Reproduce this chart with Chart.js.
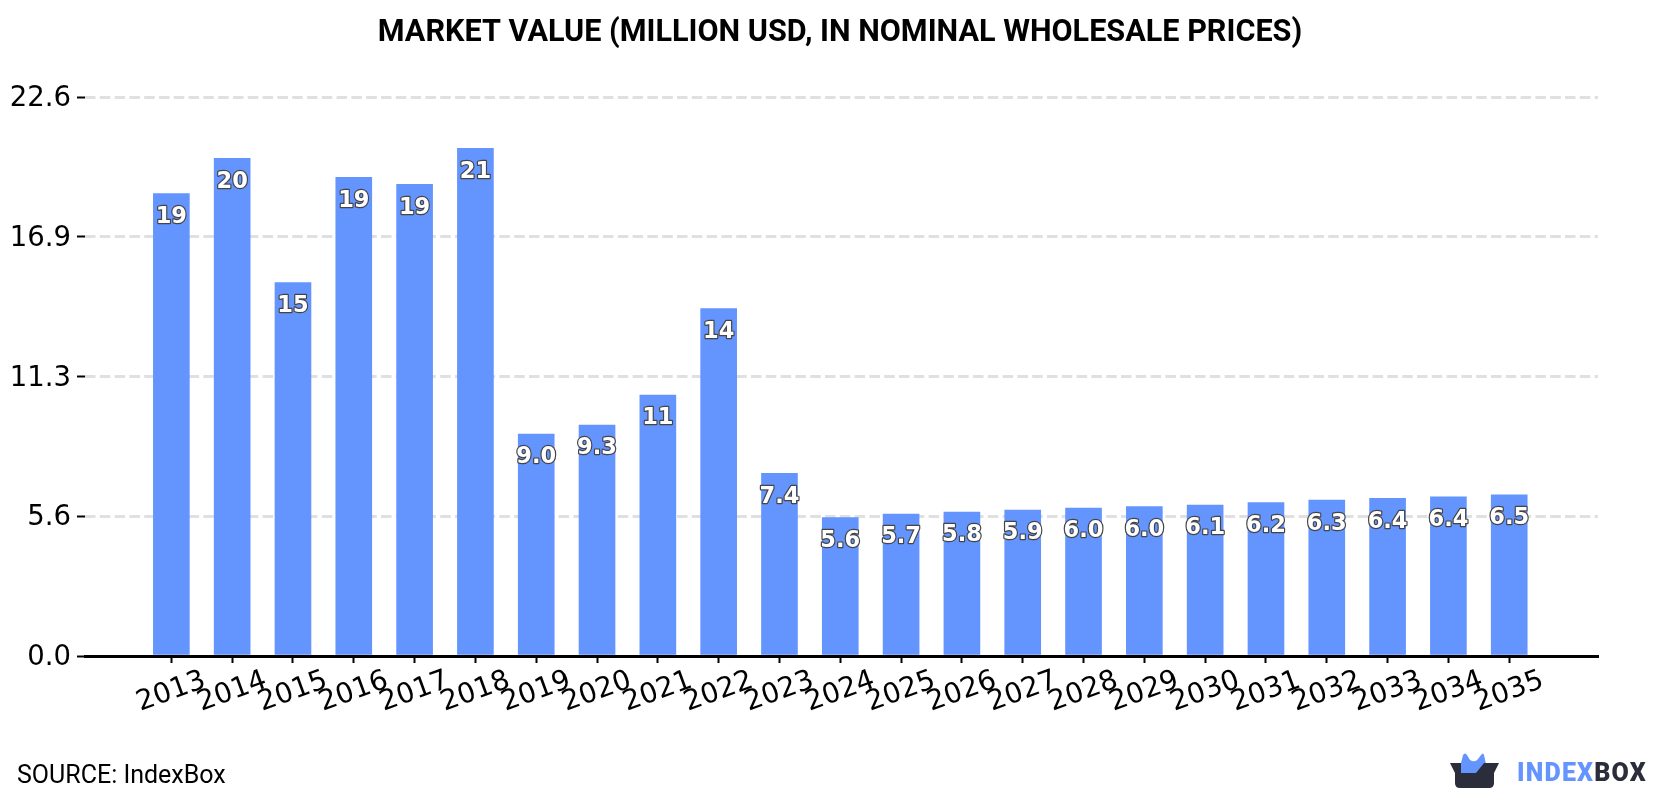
<!DOCTYPE html>
<html>
<head>
<meta charset="utf-8">
<title>Market value</title>
<script src="https://cdn.jsdelivr.net/npm/chart.js@4"></script>
<style>
  html, body { margin: 0; padding: 0; background: #fff; }
  #wrap { width: 1680px; height: 800px; }
</style>
</head>
<body>
<div id="wrap"><canvas id="marketChart" width="1680" height="800"></canvas></div>
<script>
const years = [2013, 2014, 2015, 2016, 2017, 2018, 2019, 2020, 2021, 2022, 2023, 2024,
  2025, 2026, 2027, 2028, 2029, 2030, 2031, 2032, 2033, 2034, 2035];
const marketValues = [18.7, 20.12, 15.1, 19.35, 19.07, 20.52, 8.97, 9.34, 10.55, 14.05, 7.39, 5.6,
  5.74, 5.82, 5.9, 5.98, 6.04, 6.1, 6.2, 6.3, 6.37, 6.44, 6.52];
const yTickValues = [0, 5.65, 11.3, 16.95, 22.6];
const yTickLabels = ['0.0', '5.6', '11.3', '16.9', '22.6'];

const BLUE = '#6495ff';
const DARK = '#2b2d3a';

// short values get one decimal, the rest are whole numbers
function formatValue(v) {
  return v < 10 ? v.toFixed(1) : v.toFixed(0);
}

// value labels inside the top of each bar
const barLabels = {
  id: 'barLabels',
  afterDatasetsDraw(chart) {
    const ctx = chart.ctx;
    const bars = chart.getDatasetMeta(0).data;
    ctx.save();
    ctx.font = 'bold 22.5px "DejaVu Sans"';
    ctx.textAlign = 'center';
    ctx.textBaseline = 'middle';
    ctx.lineJoin = 'round';
    bars.forEach((bar, i) => {
      const label = formatValue(marketValues[i]);
      ctx.lineWidth = 2.4;
      ctx.strokeStyle = '#444';
      ctx.strokeText(label, bar.x, bar.y + 23.5);
      ctx.fillStyle = '#fff';
      ctx.fillText(label, bar.x, bar.y + 23.5);
    });
    ctx.restore();
  }
};

// year labels are turned around their own centre, which the axis can't do by itself
const yearLabels = {
  id: 'yearLabels',
  afterDraw(chart) {
    const ctx = chart.ctx;
    const xScale = chart.scales.x;
    ctx.save();
    ctx.font = '28px "DejaVu Sans"';
    ctx.fillStyle = '#000';
    ctx.textAlign = 'center';
    ctx.textBaseline = 'middle';
    years.forEach(year => {
      ctx.save();
      ctx.translate(xScale.getPixelForValue(year), chart.chartArea.bottom + 36);
      ctx.rotate(-20 * Math.PI / 180);
      ctx.fillText(String(year), 0, 0);
      ctx.restore();
    });
    ctx.restore();
  }
};

// heading is centred on the whole page, not on the plot
const heading = {
  id: 'heading',
  afterDraw(chart) {
    const ctx = chart.ctx;
    ctx.save();
    ctx.fillStyle = '#000';
    ctx.font = 'bold 30.6px Roboto';
    ctx.textAlign = 'center';
    ctx.textBaseline = 'middle';
    ctx.fillText('MARKET VALUE (MILLION USD, IN NOMINAL WHOLESALE PRICES)', 840, 33);
    ctx.restore();
  }
};

// footer: source line and the logo
const footer = {
  id: 'footer',
  afterDraw(chart) {
    const ctx = chart.ctx;
    ctx.save();
    ctx.fillStyle = '#000';
    ctx.font = '25px Roboto';
    ctx.textBaseline = 'middle';
    ctx.textAlign = 'left';
    ctx.fillText('SOURCE: IndexBox', 17, 777);

    // basket icon, the blue part sits behind the dark one
    ctx.fillStyle = BLUE;
    ctx.beginPath();
    ctx.moveTo(1461, 773);
    ctx.lineTo(1461, 763);
    ctx.lineTo(1463, 755);
    ctx.quadraticCurveTo(1465, 752, 1467, 755);
    ctx.lineTo(1470, 760);
    ctx.quadraticCurveTo(1475, 763, 1478, 759);
    ctx.lineTo(1481, 755);
    ctx.quadraticCurveTo(1483, 752, 1484, 755);
    ctx.lineTo(1486, 764);
    ctx.lineTo(1478, 773);
    ctx.closePath();
    ctx.fill();

    ctx.fillStyle = DARK;
    ctx.beginPath();
    ctx.moveTo(1450, 763);
    ctx.lineTo(1461, 763);
    ctx.lineTo(1461, 773);
    ctx.lineTo(1476, 773);
    ctx.lineTo(1484, 763);
    ctx.lineTo(1499, 763);
    ctx.lineTo(1494, 773);
    ctx.lineTo(1494, 783);
    ctx.quadraticCurveTo(1494, 788, 1489, 788);
    ctx.lineTo(1460, 788);
    ctx.quadraticCurveTo(1455, 788, 1455, 783);
    ctx.lineTo(1455, 773);
    ctx.closePath();
    ctx.fill();

    ctx.font = '900 25px Roboto';
    ctx.letterSpacing = '1.2px';
    ctx.fillStyle = BLUE;
    ctx.fillText('INDEX', 1517, 775);
    const w = ctx.measureText('INDEX').width;
    ctx.fillStyle = DARK;
    ctx.fillText('BOX', 1517 + w, 775);
    ctx.restore();
  }
};

new Chart(document.getElementById('marketChart'), {
  type: 'bar',
  data: {
    datasets: [{
      data: years.map((year, i) => ({ x: year, y: marketValues[i] })),
      backgroundColor: BLUE,
      barThickness: 36
    }]
  },
  plugins: [barLabels, yearLabels, heading, footer],
  options: {
    responsive: false,
    animation: false,
    layout: { padding: { left: 0, right: 82, top: 97, bottom: 0 } },
    plugins: {
      legend: { display: false },
      tooltip: { enabled: false }
    },
    scales: {
      x: {
        type: 'linear',
        offset: false,
        min: 2011.58,
        max: 2036.46,
        afterBuildTicks(scale) {
          scale.ticks = years.map(v => ({ value: v }));
        },
        afterFit(scale) { scale.height = 144; },
        ticks: { display: false },
        grid: { offset: false, drawOnChartArea: false, drawTicks: true, tickColor: '#000', tickWidth: 2, tickLength: 7 },
        border: { display: true, color: '#000', width: 3 }
      },
      y: {
        min: 0,
        max: 22.6,
        afterBuildTicks(scale) {
          scale.ticks = yTickValues.map(v => ({ value: v }));
        },
        afterFit(scale) { scale.width = 85; },
        ticks: {
          color: '#000',
          font: { family: 'DejaVu Sans', size: 27.5 },
          padding: 6,
          labelOffset: 2,
          callback: (value) => yTickLabels[yTickValues.indexOf(value)]
        },
        grid: { color: '#e0e0e0', lineWidth: 3, tickColor: '#000', tickWidth: 2, tickLength: 8 },
        border: { display: false, dash: [10.5, 4.3] }
      }
    }
  }
});
</script>
</body>
</html>
